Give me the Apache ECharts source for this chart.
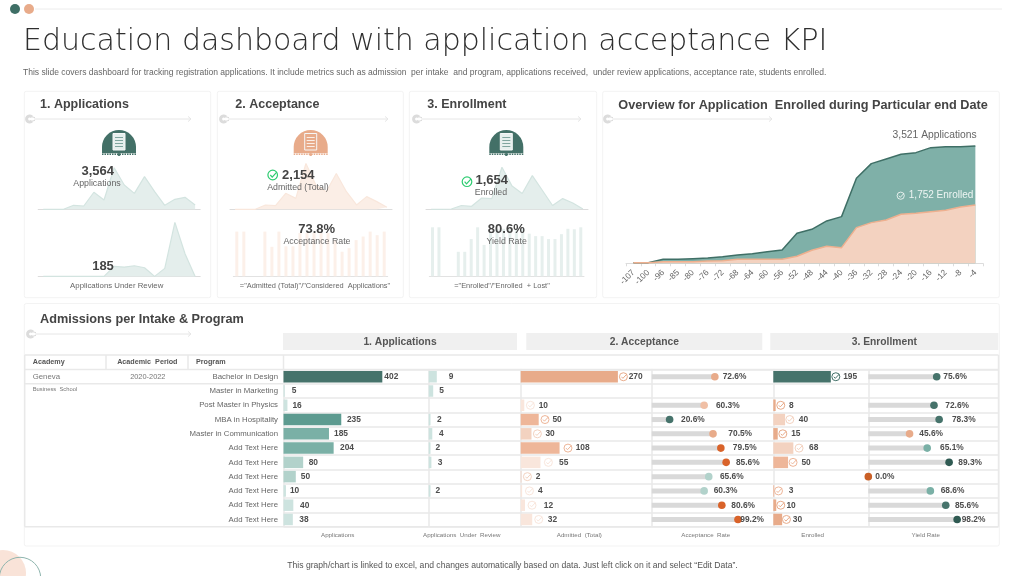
<!DOCTYPE html>
<html>
<head>
<meta charset="utf-8">
<style>html,body{margin:0;padding:0;background:#fff}#main{width:1024px;height:576px}</style>
<script src="https://cdn.jsdelivr.net/npm/echarts@6/dist/echarts.min.js"></script>
</head>
<body>
<div id="main"></div>
<script>
// ---- KPI trend data ----
const sparkCats = ['1','2','3','4','5','6','7','8','9','10','11','12','13','14','15','16'];
const applicationsTrend = [0,0,0,73,60,310,170,756,442,290,593,320,73,181,218,79];
const underReviewTrend = [0,0,0,0,0,0,0,15,14,16,13,0,12,81,34,0];
const admittedTrend = [0,0,0,54,46,200,137,573,299,220,448,220,54,158,96,25];
const enrolledTrend = [0,0,3,38,30,113,107,420,232,158,337,188,38,107,63,3];
const acceptanceRateBars = [100,100,null,null,100,66,100,67,67,97,97,97,97,97,81,55,63,81,89,100,92,100];
const yieldRateBars = [100,100,null,null,50,50,76,100,64,90,97,97,97,97,97,87,82,82,76,76,86,97,96,100];

// ---- Overview by days to end date ----
const endDateLabels = ['-107','-100','-96','-85','-80','-76','-72','-68','-64','-60','-56','-52','-48','-44','-40','-36','-32','-28','-24','-20','-16','-12','-8','-4'];
const cumulativeApplications = [20,20,120,120,140,160,200,250,290,350,400,900,1020,1270,1400,2550,2990,3130,3270,3320,3470,3500,3500,3521];
const cumulativeEnrolled = [20,20,50,50,50,70,80,120,120,120,120,210,390,510,470,1070,1220,1300,1470,1500,1550,1590,1690,1752];

// ---- Admissions table ----
const programs = ['Bachelor in Design','Master in Marketing','Post Master in Physics','MBA in Hospitality','Master in Communication','Add Text Here','Add Text Here','Add Text Here','Add Text Here','Add Text Here','Add Text Here'];
const applications = [402,5,16,235,185,204,80,50,10,40,38];
const underReview = [9,5,null,2,4,2,3,null,2,null,null];
const admitted = [270,null,10,50,30,108,55,2,4,12,32];
const acceptanceRate = [72.6,null,60.3,20.6,70.5,79.5,85.6,65.6,60.3,80.6,99.2];
const enrolled = [195,null,8,40,15,68,50,null,3,10,30];
const yieldRate = [75.6,null,72.6,78.3,45.6,65.1,89.3,0,68.6,85.6,98.2];

// ---- Palette ----
const TEAL = '#46736b', TEAL_MID = '#5d9b90', TEAL_SOFT = '#7ab0a6', TEAL_PALE = '#b2d2cb', TEAL_MIST = '#cde3df';
const PEACH = '#e8ab8a', PEACH_MID = '#eeb699', PEACH_SOFT = '#f3d2c0', PEACH_PALE = '#f9e6dc', PEACH_MIST = '#fbeee8';
const EMBER = '#d9632a', PINE = '#2f5a52';
const applicationTints = [TEAL,TEAL_MIST,TEAL_MIST,TEAL_MID,TEAL_SOFT,TEAL_SOFT,TEAL_PALE,TEAL_PALE,TEAL_MIST,TEAL_MIST,TEAL_MIST];
const admittedTints = [PEACH,null,PEACH_PALE,PEACH_MID,PEACH_SOFT,PEACH_MID,PEACH_PALE,PEACH_SOFT,PEACH_PALE,PEACH_PALE,PEACH_PALE];
const enrolledTints = [TEAL,null,PEACH,PEACH_SOFT,PEACH,PEACH_SOFT,PEACH_MID,null,PEACH_MID,PEACH,PEACH];
const acceptanceDots = [PEACH,null,'#f0bfa5',TEAL,PEACH,EMBER,EMBER,TEAL_PALE,TEAL_PALE,EMBER,EMBER];
const yieldDots = [TEAL,null,TEAL,TEAL,PEACH,TEAL_SOFT,PINE,'#c95f26',TEAL_SOFT,TEAL,PINE];

// ---- Per-row label offsets in pixels, measured from the end of each mark ----
const applicationGaps = [2,7,5,5.7,5,6.4,5.5,5,4,6.7,6.5];
const reviewGaps = [12,6,0,6.5,6.7,5,6.3,0,5,0,0];
const admittedIconGaps = [5.5,0,6.1,6.3,5.9,8.4,7.9,6,7.3,7,6.5];
const admittedGaps = [10.8,0,14.4,13.7,13.9,16.1,18.5,14.3,15.9,18.7,15.5];
const acceptanceGaps = [7.8,0,11.8,11.4,15.3,12,9.8,11.2,9.5,9.5,2.3];
const enrolledIconGaps = [5,0,5.1,4.7,5.1,5.7,5,0,4.3,4.5,4.3];
const enrolledGaps = [12.3,0,13.4,13.7,13.4,15.7,13.4,0,14.6,10.2,10.6];
const yieldGaps = [6.6,0,11.3,12.8,9.7,12.8,9.2,7,10.3,9.2,4.5];

const FONT = '"Liberation Sans", Arial, sans-serif';
const RULE = '#e9e9e9';
const grids = [], xAxes = [], yAxes = [], series = [];

// One grid plus its pair of axes; returns the index they share.
function addPanel(grid, xAxis, yAxis) {
  grids.push(grid);
  xAxes.push(Object.assign({ gridIndex: grids.length - 1 }, xAxis));
  yAxes.push(Object.assign({ gridIndex: grids.length - 1 }, yAxis));
  return grids.length - 1;
}
const hiddenValue = (max) => ({ type: 'value', min: 0, max, show: false });

function sparkArea(values, box, yMax, line, fill) {
  const i = addPanel(
    { left: box[0], top: box[1], width: box[2], height: box[3] },
    { type: 'category', data: sparkCats, boundaryGap: true,
      axisLine: { show: true, lineStyle: { color: '#dcdcdc', width: 1 } }, axisTick: { show: false }, axisLabel: { show: false } },
    hiddenValue(yMax));
  series.push({ type: 'line', xAxisIndex: i, yAxisIndex: i, data: values, symbol: 'none', silent: true,
    lineStyle: { color: line, width: 1.2 }, areaStyle: { color: fill, opacity: 1 } });
}
function rateBars(values, box, color) {
  const cats = values.map((_, k) => String(k + 1));
  const i = addPanel(
    { left: box[0], top: box[1], width: box[2], height: box[3] },
    { type: 'category', data: cats,
      axisLine: { show: true, lineStyle: { color: '#e2e2e2', width: 1 } }, axisTick: { show: false }, axisLabel: { show: false } },
    hiddenValue(100));
  series.push({ type: 'bar', xAxisIndex: i, yAxisIndex: i, data: values, barWidth: 3, silent: true, itemStyle: { color } });
}

sparkArea(applicationsTrend, [38.2, 154.3, 162, 55], 1000, '#d3e4e0', '#e4eeec');
sparkArea(underReviewTrend, [38.2, 209.7, 162, 66.7], 100, '#d3e4e0', '#e4eeec');
sparkArea(admittedTrend, [230, 145.3, 162, 64], 800, '#f9e7dc', '#fbeee6');
sparkArea(enrolledTrend, [426, 145.3, 162, 64], 640, '#d3e4e0', '#e4eeec');
rateBars(acceptanceRateBars, [233.3, 231.6, 154.4, 44.7], '#fcf0e9');
rateBars(yieldRateBars, [429.3, 227.3, 154.7, 49], '#e6efed');

// Cumulative overview: applications behind, enrolled in front.
const overview = addPanel(
  { left: 626, top: 143.3, width: 356.8, height: 120 },
  { type: 'category', data: endDateLabels, boundaryGap: true,
    axisLine: { show: true, lineStyle: { color: '#dcdcdc' } },
    axisTick: { show: true, length: 3, lineStyle: { color: '#dcdcdc' } },
    axisLabel: { interval: 0, rotate: 45, fontSize: 8.4, color: '#666', fontFamily: FONT, margin: 8 } },
  hiddenValue(3600));
series.push({ type: 'line', xAxisIndex: overview, yAxisIndex: overview, data: cumulativeApplications, symbol: 'none', silent: true,
  lineStyle: { color: '#3f6f66', width: 1.5 }, areaStyle: { color: '#7fb0a8', opacity: 1 } });
series.push({ type: 'line', xAxisIndex: overview, yAxisIndex: overview, data: cumulativeEnrolled, symbol: 'none', silent: true,
  lineStyle: { color: '#eeb08f', width: 1.5 }, areaStyle: { color: '#f3d2c0', opacity: 1 } });

// ---- Table columns ----
function tableColumn(left, width, xMax, showPrograms) {
  return addPanel(
    { left, top: 369.6, width, height: 157 },
    { type: 'value', min: 0, max: xMax, show: false },
    { type: 'category', data: programs, inverse: true,
      axisLine: { show: true, lineStyle: { color: RULE, width: 1.5 } }, axisTick: { show: false },
      splitLine: { show: true, interval: 0, lineStyle: { color: RULE, width: 1.5 } },
      axisLabel: showPrograms
        ? { show: true, interval: 0, margin: 5.5, fontSize: 7.8, color: '#666', fontFamily: FONT, padding: [0, 0, 3, 0] }
        : { show: false } });
}
function tintedBars(i, values, tints) {
  series.push({ type: 'bar', xAxisIndex: i, yAxisIndex: i, data: values, barWidth: 11.5, silent: true, z: 3,
    itemStyle: { color: (p) => tints[p.dataIndex] || PEACH_PALE } });
}
// Row annotation: bold value text, optionally preceded by a ring-and-tick badge.
function rowNotes(i, values, format, textGaps, iconGaps, iconTints) {
  series.push({
    type: 'custom', xAxisIndex: i, yAxisIndex: i, z: 6, silent: true, clip: false,
    data: values.map((v, row) => [v, row]).filter((d) => d[0] !== null),
    encode: { x: 0, y: 1 },
    renderItem(params, api) {
      const row = api.value(1);
      const p = api.coord([api.value(0), row]);
      const children = [{
        type: 'text',
        style: { text: format(api.value(0)), x: p[0] + textGaps[row], y: p[1], fill: '#4d4d4d',
          font: 'bold 8.4px ' + FONT, textAlign: 'left', textVerticalAlign: 'middle' }
      }];
      if (iconGaps) {
        const cx = p[0] + iconGaps[row], c = iconTints[row] || PEACH_MID, r = 4;
        children.push(
          { type: 'circle', shape: { cx, cy: p[1], r }, style: { fill: 'none', stroke: c, lineWidth: 1 } },
          { type: 'polyline', shape: { points: [[cx - 2, p[1]], [cx - 0.5, p[1] + 1.6], [cx + 3.4, p[1] - 2.6]] },
            style: { fill: 'none', stroke: c, lineWidth: 1 } });
      }
      return { type: 'group', children };
    }
  });
}
function dotBars(i, values, dots) {
  series.push({ type: 'bar', xAxisIndex: i, yAxisIndex: i, data: values, barWidth: 5, silent: true, z: 3, itemStyle: { color: '#d9d9d9' } });
  series.push({ type: 'scatter', xAxisIndex: i, yAxisIndex: i, symbolSize: 7.6, silent: true, z: 5,
    data: values.map((v, row) => [v, row]).filter((d) => d[0] !== null),
    itemStyle: { color: (p) => dots[p.data[1]], opacity: 1 } });
}
const plain = (v) => String(v);
const percent = (v) => v.toFixed(1) + '%';

const colApplications = tableColumn(283.5, 145.2, 590.7, true);
tintedBars(colApplications, applications, applicationTints);
rowNotes(colApplications, applications, plain, applicationGaps);

const colReview = tableColumn(428.7, 92, 102.2);
tintedBars(colReview, underReview, underReview.map(() => TEAL_MIST));
rowNotes(colReview, underReview, plain, reviewGaps);

const colAdmitted = tableColumn(520.7, 131, 363.9);
tintedBars(colAdmitted, admitted, admittedTints);
rowNotes(colAdmitted, admitted, plain, admittedGaps, admittedIconGaps, admittedTints);

const colAcceptance = tableColumn(651.7, 121.6, 139.8);
dotBars(colAcceptance, acceptanceRate, acceptanceDots);
rowNotes(colAcceptance, acceptanceRate, percent, acceptanceGaps);

const colEnrolled = tableColumn(773.3, 95, 322);
tintedBars(colEnrolled, enrolled, enrolledTints);
rowNotes(colEnrolled, enrolled, plain, enrolledGaps, enrolledIconGaps, enrolledTints);

const colYield = tableColumn(868.3, 130.2, 143.9);
dotBars(colYield, yieldRate, yieldDots);
rowNotes(colYield, yieldRate, percent, yieldGaps);

// ---- Static furniture: cards, rules, headings, KPI text ----
const furniture = [];
const text = (t, x, y, size, fill, opt) => furniture.push(Object.assign({
  type: 'text', z: 20, silent: true, x, y,
  style: Object.assign({ text: t, fill, font: (opt && opt.bold ? 'bold ' : '') + size + 'px ' + FONT,
    textAlign: (opt && opt.align) || 'center', textVerticalAlign: 'middle' })
}));
const rule = (x1, y1, x2, y2, color, width) => furniture.push({
  type: 'line', z: 1, silent: true, shape: { x1, y1, x2, y2 }, style: { stroke: color || RULE, lineWidth: width || 1.5 } });
const card = (x, y, w, h) => furniture.push({
  type: 'rect', z: 0, silent: true, shape: { x, y, width: w, height: h, r: 2 }, style: { fill: '#fff', stroke: '#f3f3f3', lineWidth: 1 } });
function connector(x1, x2, y) {
  furniture.push({ type: 'arc', z: 1, silent: true, shape: { cx: x1 + 4.6, cy: y, r: 3, startAngle: 0.7, endAngle: -0.7 },
    style: { fill: 'none', stroke: '#dcdcdc', lineWidth: 3 } });
  rule(x1 + 5, y - 2.6, x1 + 10, y - 1.4, '#dcdcdc', 1);
  rule(x1 + 5, y + 2.6, x1 + 10, y + 1.4, '#dcdcdc', 1);
  rule(x1 + 9, y, x2, y, '#e6e6e6', 1);
  furniture.push({ type: 'polyline', z: 1, silent: true, shape: { points: [[x2 - 2, y - 2.6], [x2 + 1, y], [x2 - 2, y + 2.6]] },
    style: { fill: 'none', stroke: '#e6e6e6', lineWidth: 1 } });
}
function badge(cx, color, paper, ink) {
  furniture.push({ type: 'sector', z: 3, silent: true, shape: { cx, cy: 147, r: 17, r0: 0, startAngle: Math.PI, endAngle: Math.PI * 2 }, style: { fill: color } });
  furniture.push({ type: 'rect', z: 3, silent: true, shape: { x: cx - 17, y: 147, width: 34, height: 6.2 }, style: { fill: color } });
  rule(cx - 17, 154.3, cx + 17, 154.3, color, 1.6);
  furniture[furniture.length - 1].style.lineDash = [1.5, 1];
  furniture.push({ type: 'circle', z: 4, silent: true, shape: { cx, cy: 154.4, r: 1.5 }, style: { fill: color } });
  furniture.push({ type: 'rect', z: 4, silent: true, shape: { x: cx - 6, y: 133.5, width: 12, height: 16.5 }, style: { fill: paper, stroke: '#f5f7f7', lineWidth: 1 } });
  [137.5, 140.5, 143.5, 146.5].forEach((y) => rule(cx - 4, y, cx + 4, y, ink, 1));
  furniture.slice(-4).forEach((e) => { e.z = 4; });
}
function tick(cx, cy, r, color, width) {
  furniture.push({ type: 'circle', z: 21, silent: true, shape: { cx, cy, r }, style: { fill: 'none', stroke: color, lineWidth: width } });
  furniture.push({ type: 'polyline', z: 21, silent: true,
    shape: { points: [[cx - r * 0.5, cy], [cx - r * 0.1, cy + r * 0.45], [cx + r * 0.85, cy - r * 0.6]] },
    style: { fill: 'none', stroke: color, lineWidth: width } });
}

// Corner ornaments
furniture.push({ type: 'circle', z: 0, silent: true, shape: { cx: 15, cy: 9, r: 5 }, style: { fill: '#3f6f66' } });
furniture.push({ type: 'circle', z: 0, silent: true, shape: { cx: 29, cy: 9, r: 5 }, style: { fill: PEACH } });
rule(35, 9, 1002, 9, '#ececec', 1);
furniture.push({ type: 'circle', z: 0, silent: true, shape: { cx: 3, cy: 573, r: 23 }, style: { fill: '#f9e3d8' } });
furniture.push({ type: 'circle', z: 1, silent: true, shape: { cx: 20, cy: 578, r: 20.7 }, style: { fill: 'none', stroke: '#8fb5ae', lineWidth: 1 } });

// Cards
card(24.3, 91.3, 186.4, 206.4);
card(217.3, 91.3, 186, 206.4);
card(409.3, 91.3, 187.4, 206.4);
card(602.7, 91.3, 396.6, 206.4);
card(24.3, 303.5, 975, 242.5);

// Card headings
text('1. Applications', 40, 105, 12.5, '#444', { bold: true, align: 'left' });
text('2. Acceptance', 235.3, 105, 12.5, '#444', { bold: true, align: 'left' });
text('3. Enrollment', 427.3, 105, 12.5, '#444', { bold: true, align: 'left' });
text('Overview for Application  Enrolled during Particular end Date', 618.3, 105, 12.7, '#444', { bold: true, align: 'left' });
text('Admissions per Intake & Program', 40, 319.3, 12.7, '#444', { bold: true, align: 'left' });
connector(25, 190, 119);
connector(219, 387, 119);
connector(412, 580, 119);
connector(603, 771, 119);
connector(26, 190, 334);
badge(119, '#437067', '#e6efed', '#7fa59e');
badge(310.7, PEACH, 'none', '#fbeee6');
badge(506.3, '#437067', '#e6efed', '#7fa59e');

// KPI captions
const INK = '#444', MUTED = '#666';
text('3,564', 97.7, 171.7, 13, INK, { bold: true });
text('Applications', 97, 184, 8.8, MUTED);
text('185', 103, 266.7, 13, INK, { bold: true });
text('Applications Under Review', 116.7, 286, 7.8, MUTED);
tick(272.7, 175, 4.8, '#2ecc71', 1.2);
text('2,154', 298.3, 175, 13, INK, { bold: true });
text('Admitted (Total)', 298, 188, 8.8, MUTED);
text('73.8%', 316.7, 229, 13, INK, { bold: true });
text('Acceptance Rate', 317, 241.7, 8.8, MUTED);
text('="Admitted (Total)"/"Considered  Applications"', 315, 286, 7.4, MUTED);
tick(467, 181.7, 4.8, '#2ecc71', 1.2);
text('1,654', 491.7, 180.7, 13, INK, { bold: true });
text('Enrolled', 491, 192.7, 8.8, MUTED);
text('80.6%', 506.3, 229, 13, INK, { bold: true });
text('Yield Rate', 506.7, 241.7, 8.8, MUTED);
text('="Enrolled"/"Enrolled  + Lost"', 502, 286, 7.4, MUTED);
text('3,521 Applications', 976.7, 135, 10.3, MUTED, { align: 'right' });
tick(900.7, 195.7, 3.6, '#eef5f3', 0.9);
text('1,752 Enrolled', 973.3, 195.7, 10, '#eef5f3', { align: 'right' });

// Group header bands
[[283, 234, '1. Applications'], [526.3, 236, '2. Acceptance'], [770.3, 228, '3. Enrollment']].forEach(([x, w, label]) => {
  furniture.push({ type: 'rect', z: 1, silent: true, shape: { x, y: 333, width: w, height: 17 }, style: { fill: '#f0f0f0' } });
  text(label, x + w / 2, 341.7, 10.3, '#555', { bold: true });
});

// Table frame and left-hand columns
rule(24.7, 355, 998.5, 355);
rule(24.7, 369.6, 998.5, 369.6);
rule(24.7, 526.7, 998.5, 526.7);
rule(24.7, 355, 24.7, 526.7);
rule(998.5, 355, 998.5, 526.7);
rule(106, 355, 106, 369.6);
rule(188, 355, 188, 369.6);
rule(283.5, 355, 283.5, 369.6);
rule(24.7, 383.8, 283.5, 383.8);
text('Academy', 32.7, 362.3, 7.2, '#555', { bold: true, align: 'left' });
text('Academic  Period', 147.3, 362.3, 7.2, '#555', { bold: true });
text('Program', 196, 362.3, 7.2, '#555', { bold: true, align: 'left' });
text('Geneva', 32.7, 376.7, 7.8, '#777', { align: 'left' });
text('2020-2022', 147.8, 376.7, 7.4, '#777');
text('Business  School', 32.7, 389.7, 5.8, '#777', { align: 'left' });

// Column captions under the table
[['Applications', 337.7], ['Applications  Under  Review', 461.7], ['Admitted  (Total)', 579.3],
 ['Acceptance  Rate', 705.7], ['Enrolled', 812.7], ['Yield Rate', 925.7]].forEach(([t, x]) => text(t, x, 535, 6.2, '#777'));

text('This slide covers dashboard for tracking registration applications. It include metrics such as admission  per intake  and program, applications received,  under review applications, acceptance rate, students enrolled.', 23, 73, 8.53, '#666', { align: 'left' });
text('This graph/chart is linked to excel, and changes automatically based on data. Just left click on it and select \u201cEdit Data\u201d.', 287.3, 566, 8.6, '#555', { align: 'left' });

const chart = echarts.init(document.getElementById('main'), null, { renderer: 'canvas' });
chart.setOption({
  animation: false,
  backgroundColor: '#fff',
  title: {
    text: 'Education dashboard with application acceptance KPI',
    left: 23, top: 27, padding: 0,
    textStyle: { fontFamily: '"DejaVu Sans", sans-serif', fontWeight: 200, fontSize: 30, color: '#2f2f2f' }
  },
  tooltip: { show: false },
  grid: grids, xAxis: xAxes, yAxis: yAxes, series,
  graphic: { elements: furniture }
});
</script>
</body>
</html>
